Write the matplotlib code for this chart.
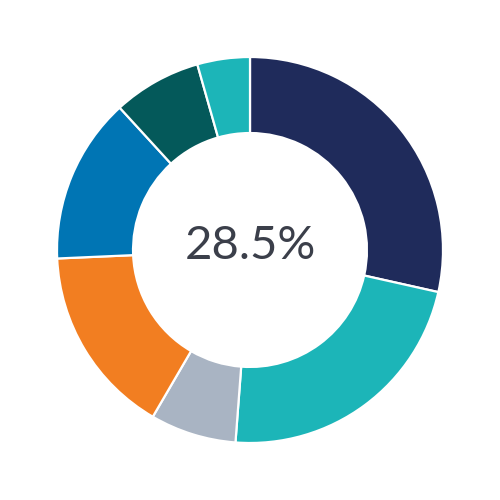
import matplotlib.pyplot as plt

# slice shares (%) clockwise from 12 o'clock
labels = ['Navy', 'Teal', 'Grey', 'Orange', 'Blue', 'Dark green', 'Light teal']
shares = [28.5, 22.7, 7.2, 15.9, 13.9, 7.4, 4.4]
colors = ['#1f2b5b', '#1cb5b8', '#a9b4c3', '#f27e21', '#0075b4', '#04595a', '#1cb5b8']
center_text = '28.5%'

fig = plt.figure(figsize=(5, 5), dpi=100)
ax = fig.add_axes([0, 0, 1, 1])

ax.pie(shares, colors=colors, startangle=90, counterclock=False, radius=1.0,
       wedgeprops=dict(width=0.394, edgecolor='white', linewidth=1.6))

ax.text(0, 0.02, center_text, ha='center', va='center', fontsize=34,
        family='Lato', color='#3b3f4a')

lim = 250 / 193
ax.set_xlim(-lim, lim)
ax.set_ylim(-lim, lim)
ax.set_aspect('equal')
ax.axis('off')

fig.savefig('out.png', dpi=100, facecolor='white')
